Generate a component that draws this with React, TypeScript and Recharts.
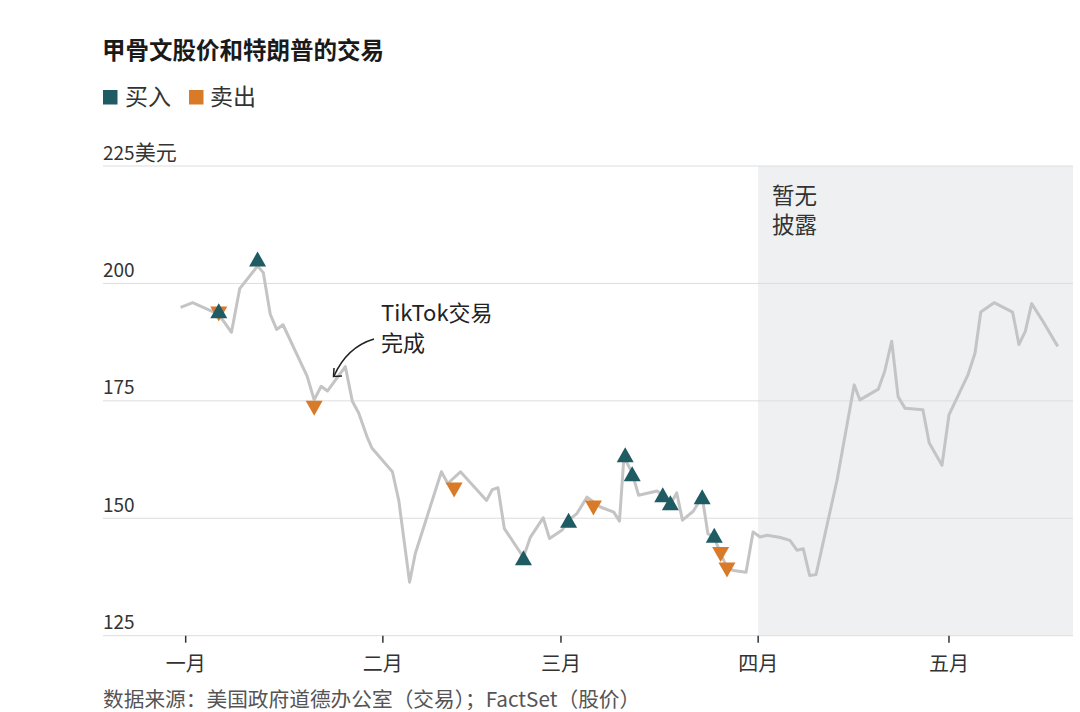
import React from 'react';
import {
  ComposedChart,
  Line,
  Scatter,
  XAxis,
  YAxis,
  CartesianGrid,
  ReferenceArea,
} from 'recharts';

// Day of year 2026 (0 = Jan 1) and Oracle share price (USD)
const priceDays = [
  -0.8, 1.1, 5.2, 7.2, 8.5, 11.3, 12.2, 13.3, 14.3, 15.3, 19.1, 20.2, 21.3, 22.3, 25.1, 26.2, 27.2, 28.5,
  29.3, 32.5, 33.5, 35.2, 36.1, 40.2, 41.2, 43.2, 47.3, 48.2, 49.1, 50.1, 53.1, 54.2, 56.2, 57.2,
  59.2, 60.2, 61.5, 63.1, 65.2, 67.3, 68.2, 68.9, 70.2, 71.2, 74.1, 75.0, 76.2, 77.2, 78.1, 79.8,
  81.2, 82.1, 83.0, 84.1, 85.1, 86.1, 88.1, 89.2, 90.3, 91.4, 93.5, 95.0, 96.1, 97.1, 98.1, 99.1,
  101.0, 102.4, 105.1, 106.0, 108.9, 109.9, 111.0, 112.0, 113.1, 115.9, 116.9, 118.9, 120.0, 123.0,
  124.1, 125.0, 127.1, 130.0, 131.0, 132.0, 133.0, 134.6, 137.1,
];
const priceValues = [
  194.9, 195.9, 193.4, 189.6, 198.9, 203.7, 202.3, 193.4, 190.2, 191.2, 180.2, 175.2, 178.1, 177.1, 182.3, 174.9, 172.4, 167.4,
  164.9, 159.9, 153.8, 136.4, 142.5, 159.9, 157.4, 159.9, 153.8, 156.1, 156.5, 147.8, 141.7, 146.0, 150.1, 145.7,
  147.5, 149.6, 151.0, 154.5, 152.4, 151.3, 149.4, 163.1, 159.6, 154.9, 155.8, 154.9, 153.0, 155.4, 149.6, 151.5,
  154.6, 146.7, 146.2, 142.5, 139.5, 138.9, 138.5, 147.1, 146.0, 146.4, 145.9, 145.3, 143.2, 143.5, 137.8, 138.0,
  149.6, 158.1, 178.4, 175.2, 177.5, 181.3, 187.7, 175.9, 173.4, 173.1, 166.0, 161.3, 172.0, 180.6,
  185.2, 193.9, 195.9, 193.9, 187.0, 189.8, 195.7, 192.3, 186.6,
];

// Trump purchases (买入) and sales (卖出)
const buyDays = [5.2, 11.3, 53.1, 60.2, 69.1, 70.2, 75.0, 76.2, 81.2, 83.1];
const buyValues = [194.2, 205.2, 141.6, 149.6, 163.5, 159.5, 155.0, 153.3, 154.6, 146.4];
const sellDays = [5.2, 20.2, 42.2, 64.1, 84.1, 85.1];
const sellValues = [193.5, 173.4, 156.0, 152.2, 142.3, 139.0];

const monthTicks = [0, 31, 59, 90, 120];
const monthLabels = ['一月', '二月', '三月', '四月', '五月'];
const yTicks = [125, 150, 175, 200, 225];
const yUnit = '美元';
const noDisclosureStart = 90;
const xDomain: [number, number] = [-13, 139.5];

const title = '甲骨文股价和特朗普的交易';
const legendBuy = '买入';
const legendSell = '卖出';
const annotationLines = ['TikTok交易', '完成'];
const shadeLines = ['暂无', '披露'];
const footer = '数据来源：美国政府道德办公室（交易）；FactSet（股价）';

const priceData = priceDays.map((d, i) => ({ d, v: priceValues[i] }));
const buyData = buyDays.map((d, i) => ({ d, v: buyValues[i] }));
const sellData = sellDays.map((d, i) => ({ d, v: sellValues[i] }));

const FONT = "'Noto Sans CJK SC', 'Noto Sans', sans-serif";
const TEAL = '#1e5b63';
const ORANGE = '#d97a28';

const BuyShape = (props: any) => {
  const { cx, cy } = props;
  if (cx == null || cy == null) return null;
  return <path d={`M${cx - 8.5},${cy + 7.5}L${cx + 8.5},${cy + 7.5}L${cx},${cy - 7.5}Z`} fill={TEAL} />;
};
const SellShape = (props: any) => {
  const { cx, cy } = props;
  if (cx == null || cy == null) return null;
  return <path d={`M${cx - 8.5},${cy - 7.5}L${cx + 8.5},${cy - 7.5}L${cx},${cy + 7.5}Z`} fill={ORANGE} />;
};

const renderYTick = (props: any) => {
  const { y, payload } = props;
  const isTop = payload.value === yTicks[yTicks.length - 1];
  return (
    <text key={`yt-${payload.value}`} x={103} y={y - 6.5} fill="#333" fontFamily={FONT} textAnchor="start">
      <tspan fontSize={19}>{payload.value}</tspan>
      {isTop ? <tspan fontSize={21}>{yUnit}</tspan> : null}
    </text>
  );
};

const renderXTick = (props: any) => {
  const { x, payload } = props;
  const idx = monthTicks.indexOf(payload.value);
  return (
    <text key={`xt-${payload.value}`} x={x} y={670.5} fill="#333" fontFamily={FONT} fontSize={20} textAnchor="middle">
      {monthLabels[idx]}
    </text>
  );
};

export default function App() {
  return (
    <div style={{ position: 'absolute', left: 0, top: 0, width: 1080, height: 712, background: '#fff', fontFamily: FONT }}>
      <ComposedChart
        width={1080}
        height={712}
        data={priceData}
        margin={{ top: 166, right: 7, bottom: 36.3, left: 63 }}
      >
        <CartesianGrid vertical={false} stroke="#dddddd" strokeWidth={1} />
        <ReferenceArea
          x1={noDisclosureStart}
          x2={xDomain[1]}
          y1={125}
          y2={225}
          fill="#d9dee3"
          fillOpacity={0.45}
          stroke="none"
          ifOverflow="hidden"
        />
        <XAxis
          type="number"
          dataKey="d"
          domain={xDomain}
          ticks={monthTicks}
          axisLine={false}
          tickLine={{ stroke: '#333', strokeWidth: 1.5 }}
          tickSize={7}
          height={40}
          tick={renderXTick}
          interval={0}
          allowDataOverflow
        />
        <YAxis
          type="number"
          domain={[125, 225]}
          ticks={yTicks}
          width={40}
          axisLine={false}
          tickLine={false}
          tick={renderYTick}
          interval={0}
        />
        <Line
          type="linear"
          dataKey="v"
          stroke="#c4c4c4"
          strokeWidth={3}
          dot={false}
          isAnimationActive={false}
          strokeLinejoin="round"
        />
        <Scatter data={sellData} dataKey="v" shape={<SellShape />} isAnimationActive={false} />
        <Scatter data={buyData} dataKey="v" shape={<BuyShape />} isAnimationActive={false} />
      </ComposedChart>
      <svg
        width={1080}
        height={712}
        style={{ position: 'absolute', left: 0, top: 0, pointerEvents: 'none' }}
        fontFamily={FONT}
      >
        <text x={102} y={59} fontSize={23.5} fontWeight={700} fill="#1a1a1a">{title}</text>
        <rect x={103} y={90} width={14.5} height={14.5} fill={TEAL} />
        <text x={125} y={104.5} fontSize={23} fill="#333">{legendBuy}</text>
        <rect x={189} y={90} width={14.5} height={14.5} fill={ORANGE} />
        <text x={210} y={104.5} fontSize={23} fill="#333">{legendSell}</text>
        <text x={381} y={321} fontSize={22} fill="#222">{annotationLines[0]}</text>
        <text x={381} y={350.5} fontSize={22} fill="#222">{annotationLines[1]}</text>
        <path d="M374,339 Q347,347 334,376" fill="none" stroke="#222" strokeWidth={1.5} />
        <path d="M334,368 L333.5,376.5 L342,376" fill="none" stroke="#222" strokeWidth={1.5} />
        <text x={772} y={203.5} fontSize={22.5} fill="#333">{shadeLines[0]}</text>
        <text x={772} y={232.5} fontSize={22.5} fill="#333">{shadeLines[1]}</text>
        <text x={103} y={706.5} fontSize={20.7} fill="#555">{footer}</text>
      </svg>
    </div>
  );
}
